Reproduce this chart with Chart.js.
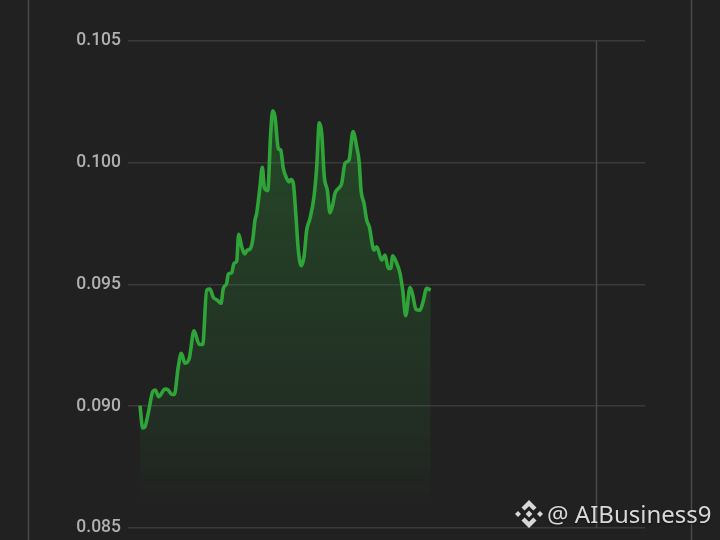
<!DOCTYPE html>
<html>
<head>
<meta charset="utf-8">
<style>
  html, body { margin: 0; padding: 0; background: #212121; }
  #wrap { position: relative; width: 720px; height: 540px; overflow: hidden; }
  #price-chart { position: absolute; left: 0; top: 0; }
  #mark { position: absolute; left: 514px; top: 499px; width: 30px; height: 30px; }
  #handle { position: absolute; left: 547px; top: 497px; font: 24px "Noto Sans", sans-serif; line-height: 33px; color: #d8d8d8; white-space: nowrap; text-shadow: 0 1px 2px rgba(0,0,0,.5); }
</style>
<script src="https://cdn.jsdelivr.net/npm/chart.js@4/dist/chart.umd.min.js"></script>
</head>
<body>
<div id="wrap">
  <canvas id="price-chart" width="720" height="540"></canvas>
  <svg id="mark" viewBox="0 0 30 30">
    <g fill="#d8d8d8">
      <path d="M15 1 L22.5 8.5 L19.4 11.6 L15 7.2 L10.6 11.6 L7.5 8.5 Z"/>
      <path d="M15 29 L22.5 21.5 L19.4 18.4 L15 22.8 L10.6 18.4 L7.5 21.5 Z"/>
      <path d="M1 15 L4 12 L7 15 L4 18 Z"/>
      <path d="M29 15 L26 12 L23 15 L26 18 Z"/>
      <path d="M15 11.6 L18.4 15 L15 18.4 L11.6 15 Z"/>
    </g>
  </svg>
  <div id="handle">@ AIBusiness9</div>
</div>
<script>
const times = [0, 2.7, 5, 8.3, 12.7, 15.3, 18.7, 25, 28.3, 31.7, 34.3, 38.3, 41.3, 45, 49.3, 54, 59.3, 62.7, 66.7, 70,
  73.3, 77.3, 81, 83.3, 86.7, 88.3, 91.7, 94, 96.7, 98.7, 101.7, 104.7, 107.3, 110, 112.7, 115, 116.7, 120, 122.3, 124.3,
  127.7, 130.7, 132.7, 135, 138.3, 140.7, 143.3, 146.7, 149, 151, 153.3, 156, 158.3, 161.3, 164, 166.7, 170, 174, 176.7, 179.3,
  181.7, 184.3, 187.3, 190, 192.7, 195, 198.3, 201.7, 205, 209, 213, 216.7, 219.3, 221, 224, 226.7, 229.3, 234, 236.7, 241.7,
  245, 248.3, 250.7, 252.7, 256.7, 260, 262.7, 265.7, 270, 272.3, 276, 280, 282.7, 286.7, 290.7];
const prices = [0.09002, 0.08910, 0.08916, 0.08972, 0.09059, 0.09066, 0.09039, 0.09070, 0.09066, 0.09048, 0.09048, 0.09162, 0.09217, 0.09176, 0.09196, 0.09309, 0.09253, 0.09253, 0.09476, 0.09480,
  0.09446, 0.09435, 0.09422, 0.09483, 0.09504, 0.09542, 0.09547, 0.09586, 0.09595, 0.09705, 0.09654, 0.09624, 0.09640, 0.09644, 0.09681, 0.09763, 0.09791, 0.09900, 0.09980, 0.09897,
  0.09884, 0.10119, 0.10212, 0.10187, 0.10057, 0.10050, 0.09975, 0.09934, 0.09920, 0.09930, 0.09914, 0.09777, 0.09640, 0.09576, 0.09613, 0.09722, 0.09770, 0.09859, 0.09982, 0.10162,
  0.10119, 0.09941, 0.09886, 0.09793, 0.09825, 0.09873, 0.09893, 0.09914, 0.09996, 0.10009, 0.10126, 0.10064, 0.09996, 0.09886, 0.09832, 0.09763, 0.09736, 0.09640, 0.09654, 0.09599,
  0.09620, 0.09565, 0.09565, 0.09617, 0.09586, 0.09545, 0.09476, 0.09371, 0.09486, 0.09463, 0.09397, 0.09394, 0.09422, 0.09483, 0.09476];
const priceTicks = [0.085, 0.09, 0.095, 0.1, 0.105];
const guideTimes = [-112, 456, 551];

const guideLines = {
  id: 'guideLines',
  beforeDatasetsDraw(chart) {
    const { ctx, scales, chartArea, height } = chart;
    ctx.save();
    ctx.strokeStyle = '#484848';
    ctx.lineWidth = 1.5;
    guideTimes.forEach(function (t, i) {
      const x = Math.round(scales.x.getPixelForValue(t)) + 0.5;
      const inner = i === 1;
      ctx.beginPath();
      ctx.moveTo(x, inner ? chartArea.top : 0);
      ctx.lineTo(x, inner ? chartArea.bottom : height);
      ctx.stroke();
    });
    ctx.restore();
  }
};

new Chart(document.getElementById('price-chart').getContext('2d'), {
  type: 'line',
  data: {
    datasets: [{
      data: times.map(function (t, i) { return { x: t, y: prices[i] }; }),
      borderColor: '#2fa539',
      borderWidth: 3.6,
      pointRadius: 0,
      cubicInterpolationMode: 'monotone',
      fill: 'origin',
      backgroundColor: function (c) {
        const g = c.chart.ctx.createLinearGradient(0, 110, 0, 510);
        g.addColorStop(0, 'rgba(47,165,57,0.30)');
        g.addColorStop(0.8, 'rgba(47,165,57,0.09)');
        g.addColorStop(1, 'rgba(47,165,57,0.0)');
        return g;
      }
    }]
  },
  options: {
    responsive: false,
    animation: false,
    layout: { padding: { top: 40.5, right: 75, bottom: 12, left: 0 } },
    plugins: { legend: { display: false }, tooltip: { enabled: false } },
    scales: {
      x: { type: 'linear', display: false, min: -12, max: 505 },
      y: {
        min: 0.085,
        max: 0.105,
        afterFit: function (s) { s.width = 128; s.paddingTop = 0; s.paddingBottom = 0; },
        afterBuildTicks: function (s) { s.ticks = priceTicks.map(function (v) { return { value: v }; }); },
        border: { display: false },
        grid: { color: '#3a3a3a', lineWidth: 1.5, tickLength: 0 },
        ticks: {
          color: '#b0b0b0',
          padding: 7,
          font: { family: 'Roboto', size: 17.5, weight: '500' },
          callback: function (v) { return v.toFixed(3); }
        }
      }
    }
  },
  plugins: [guideLines]
});
</script>
</body>
</html>
